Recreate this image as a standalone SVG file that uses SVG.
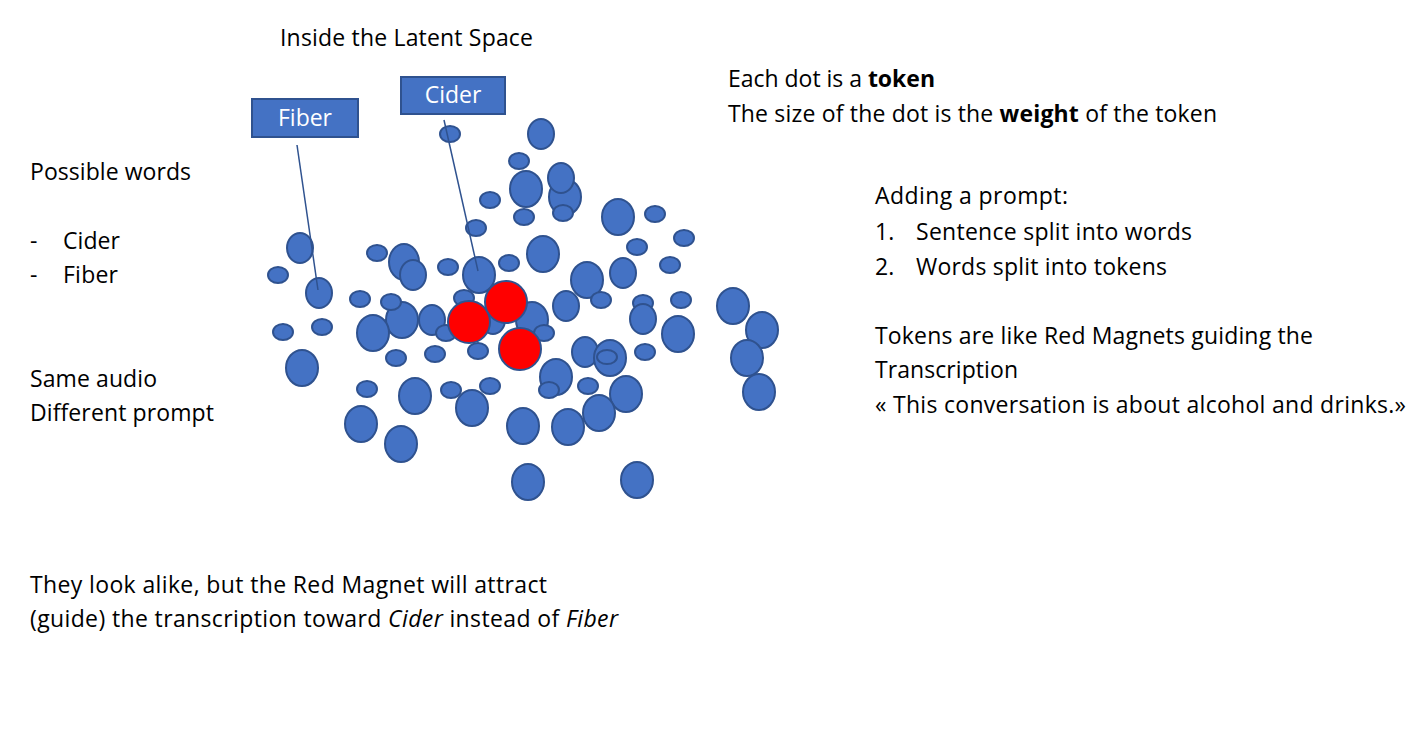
<svg xmlns="http://www.w3.org/2000/svg" width="1416" height="742" viewBox="0 0 1416 742">
<style>
text{font-family:"Open Sans","Liberation Sans",sans-serif;font-size:23px;fill:#000}
.d{fill:#4472c4;stroke:#2f528f;stroke-width:2}
.r{fill:#ff0000;stroke:#2f528f;stroke-width:2}
.lbl{fill:#4472c4;stroke:#2f528f;stroke-width:2}
.lt{fill:#fff;font-size:23px}
.cn{stroke:#2f528f;stroke-width:1.5;fill:none}
</style>
<rect width="1416" height="742" fill="#fff"/>
<g id="texts">
<text x="280" y="46" textLength="253">Inside the Latent Space</text>
<text x="728" y="87" textLength="207">Each dot is a <tspan font-weight="bold">token</tspan></text>
<text x="728" y="122" textLength="489">The size of the dot is the <tspan font-weight="bold">weight</tspan> of the token</text>
<text x="30" y="180" textLength="161">Possible words</text>
<text x="30" y="249">-</text><text x="63" y="249" textLength="57">Cider</text>
<text x="30" y="283">-</text><text x="63" y="283" textLength="55">Fiber</text>
<text x="30" y="387" textLength="127">Same audio</text>
<text x="30" y="421" textLength="184">Different prompt</text>
<text x="875" y="204" textLength="193">Adding a prompt:</text>
<text x="875" y="240">1.</text><text x="916" y="240" textLength="276">Sentence split into words</text>
<text x="875" y="275">2.</text><text x="916" y="275" textLength="251">Words split into tokens</text>
<text x="875" y="344" textLength="438">Tokens are like Red Magnets guiding the</text>
<text x="875" y="378" textLength="143">Transcription</text>
<text x="875" y="413" textLength="531">« This conversation is about alcohol and drinks.»</text>
<text x="30" y="593" textLength="517">They look alike, but the Red Magnet will attract</text>
<text x="30" y="627" textLength="588">(guide) the transcription toward <tspan font-style="italic">Cider</tspan> instead of <tspan font-style="italic">Fiber</tspan></text>
</g>
<g id="dots">
<ellipse class="d" cx="450" cy="134" rx="10" ry="8"/>
<ellipse class="d" cx="300" cy="248" rx="13" ry="15"/>
<ellipse class="d" cx="278" cy="275" rx="10" ry="8"/>
<ellipse class="d" cx="319" cy="293" rx="13" ry="15"/>
<ellipse class="d" cx="377" cy="253" rx="10" ry="8"/>
<ellipse class="d" cx="404" cy="262" rx="15" ry="18"/>
<ellipse class="d" cx="413" cy="275" rx="13" ry="15"/>
<ellipse class="d" cx="448" cy="267" rx="10" ry="8"/>
<ellipse class="d" cx="479" cy="275" rx="16" ry="18"/>
<ellipse class="d" cx="509" cy="263" rx="10" ry="8"/>
<ellipse class="d" cx="490" cy="200" rx="10" ry="8"/>
<ellipse class="d" cx="476" cy="228" rx="10" ry="8"/>
<ellipse class="d" cx="519" cy="161" rx="10" ry="8"/>
<ellipse class="d" cx="360" cy="299" rx="10" ry="8"/>
<ellipse class="d" cx="402" cy="320" rx="16" ry="18"/>
<ellipse class="d" cx="391" cy="302" rx="10" ry="8"/>
<ellipse class="d" cx="432" cy="320" rx="13" ry="15"/>
<ellipse class="d" cx="373" cy="333" rx="16" ry="18"/>
<ellipse class="d" cx="464" cy="298" rx="10" ry="8"/>
<ellipse class="d" cx="446" cy="333" rx="10" ry="8"/>
<ellipse class="d" cx="283" cy="332" rx="10" ry="8"/>
<ellipse class="d" cx="322" cy="327" rx="10" ry="8"/>
<ellipse class="d" cx="302" cy="368" rx="16" ry="18"/>
<ellipse class="d" cx="396" cy="358" rx="10" ry="8"/>
<ellipse class="d" cx="435" cy="354" rx="10" ry="8"/>
<ellipse class="d" cx="478" cy="351" rx="10" ry="8"/>
<ellipse class="d" cx="367" cy="389" rx="10" ry="8"/>
<ellipse class="d" cx="415" cy="396" rx="16" ry="18"/>
<ellipse class="d" cx="451" cy="390" rx="10" ry="8"/>
<ellipse class="d" cx="490" cy="386" rx="10" ry="8"/>
<ellipse class="d" cx="472" cy="408" rx="16" ry="18"/>
<ellipse class="d" cx="361" cy="424" rx="16" ry="18"/>
<ellipse class="d" cx="401" cy="444" rx="16" ry="18"/>
<ellipse class="d" cx="493" cy="320" rx="12" ry="14"/>
<ellipse class="d" cx="541" cy="134" rx="13" ry="15"/>
<ellipse class="d" cx="526" cy="189" rx="16" ry="18"/>
<ellipse class="d" cx="565" cy="197" rx="16" ry="18"/>
<ellipse class="d" cx="561" cy="178" rx="13" ry="15"/>
<ellipse class="d" cx="563" cy="213" rx="10" ry="8"/>
<ellipse class="d" cx="524" cy="217" rx="10" ry="8"/>
<ellipse class="d" cx="618" cy="217" rx="16" ry="18"/>
<ellipse class="d" cx="655" cy="214" rx="10" ry="8"/>
<ellipse class="d" cx="684" cy="238" rx="10" ry="8"/>
<ellipse class="d" cx="637" cy="247" rx="10" ry="8"/>
<ellipse class="d" cx="670" cy="265" rx="10" ry="8"/>
<ellipse class="d" cx="623" cy="273" rx="13" ry="15"/>
<ellipse class="d" cx="543" cy="254" rx="16" ry="18"/>
<ellipse class="d" cx="587" cy="280" rx="16" ry="18"/>
<ellipse class="d" cx="601" cy="300" rx="10" ry="8"/>
<ellipse class="d" cx="566" cy="306" rx="13" ry="15"/>
<ellipse class="d" cx="643" cy="303" rx="10" ry="8"/>
<ellipse class="d" cx="643" cy="319" rx="13" ry="15"/>
<ellipse class="d" cx="681" cy="300" rx="10" ry="8"/>
<ellipse class="d" cx="678" cy="334" rx="16" ry="18"/>
<ellipse class="d" cx="733" cy="306" rx="16" ry="18"/>
<ellipse class="d" cx="762" cy="330" rx="16" ry="18"/>
<ellipse class="d" cx="747" cy="358" rx="16" ry="18"/>
<ellipse class="d" cx="759" cy="392" rx="16" ry="18"/>
<ellipse class="d" cx="532" cy="320" rx="16" ry="18"/>
<ellipse class="d" cx="544" cy="333" rx="10" ry="8"/>
<ellipse class="d" cx="585" cy="352" rx="13" ry="15"/>
<ellipse class="d" cx="610" cy="358" rx="16" ry="18"/>
<ellipse class="d" cx="607" cy="357" rx="10" ry="7"/>
<ellipse class="d" cx="645" cy="352" rx="10" ry="8"/>
<ellipse class="d" cx="556" cy="377" rx="16" ry="18"/>
<ellipse class="d" cx="549" cy="390" rx="10" ry="8"/>
<ellipse class="d" cx="588" cy="386" rx="10" ry="8"/>
<ellipse class="d" cx="626" cy="394" rx="16" ry="18"/>
<ellipse class="d" cx="599" cy="413" rx="16" ry="18"/>
<ellipse class="d" cx="523" cy="426" rx="16" ry="18"/>
<ellipse class="d" cx="568" cy="427" rx="16" ry="18"/>
<ellipse class="d" cx="528" cy="482" rx="16" ry="18"/>
<ellipse class="d" cx="637" cy="480" rx="16" ry="18"/>
<circle class="r" cx="469" cy="322" r="21"/>
<circle class="r" cx="506" cy="302" r="21"/>
<circle class="r" cx="520" cy="349" r="21"/>
</g>
<g id="connectors">
<line class="cn" x1="297" y1="145" x2="318" y2="290"/>
<line class="cn" x1="444" y1="120" x2="478" y2="271"/>
</g>
<g id="fiber">
<rect class="lbl" x="252" y="99" width="106" height="38"/>
<text class="lt" x="305" y="126" text-anchor="middle">Fiber</text>
</g>
<g id="cider">
<rect class="lbl" x="401" y="77" width="104" height="37"/>
<text class="lt" x="453" y="103" text-anchor="middle">Cider</text>
</g>
</svg>
